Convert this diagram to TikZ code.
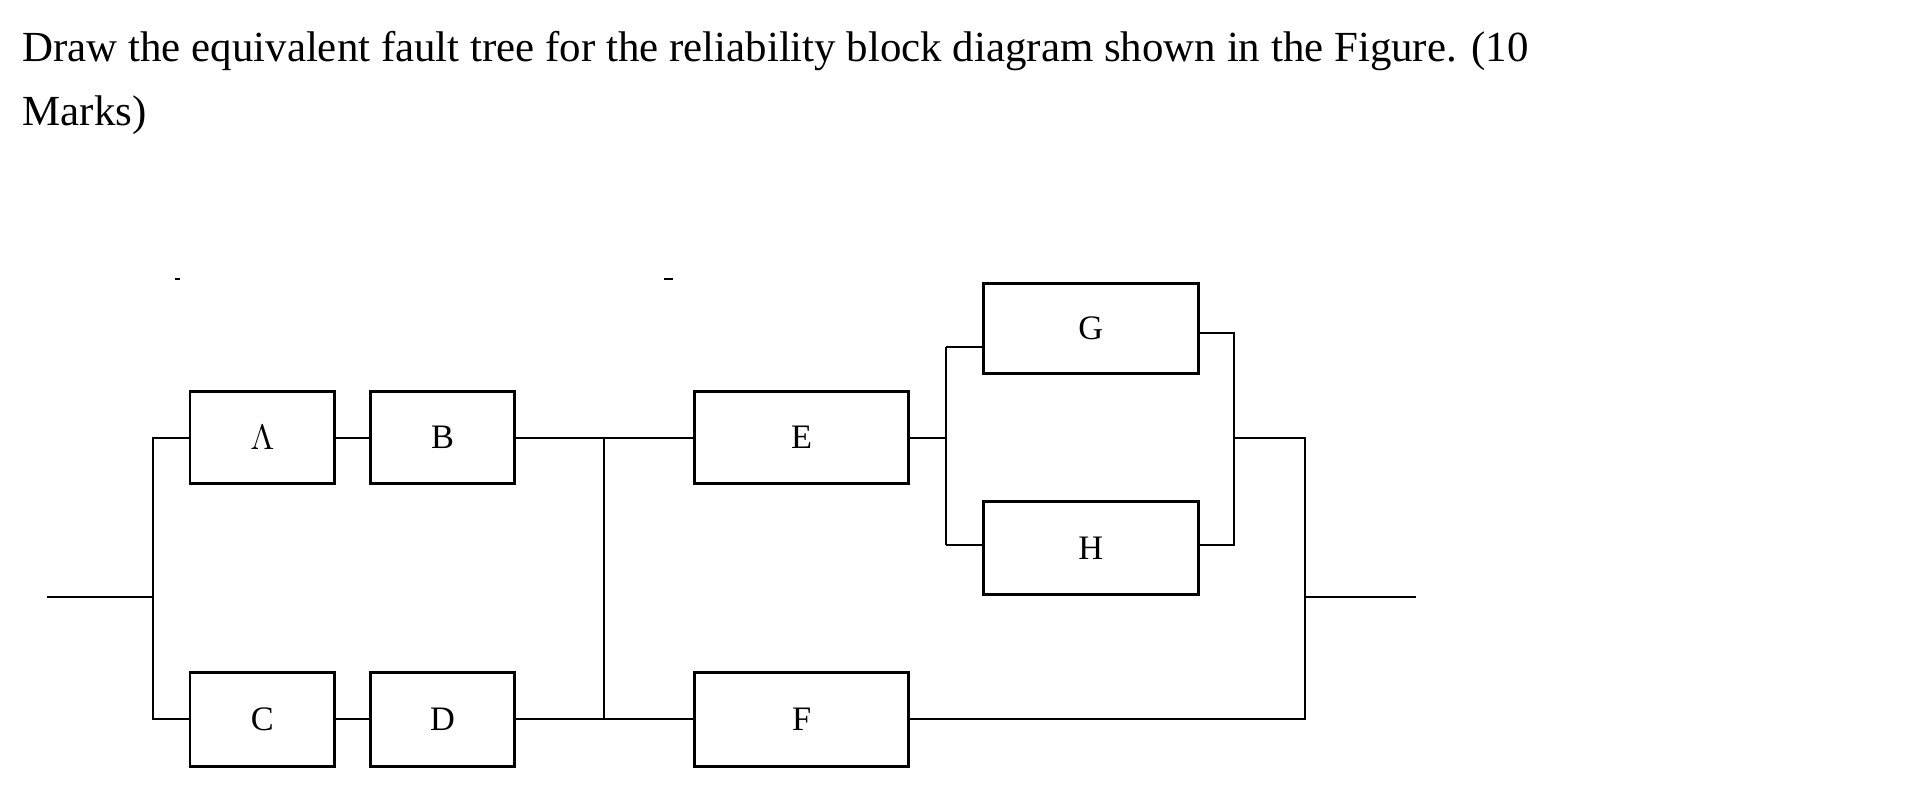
\documentclass[tikz,border=0pt]{standalone}
\usepackage{fontspec}
\setmainfont{Liberation Serif}
\begin{document}
\begin{tikzpicture}[x=0.5pt,y=-0.5pt,
  blk/.style={draw,line width=1.2pt,inner sep=0pt,font=\fontsize{14}{16}\selectfont},
  wire/.style={line width=0.8pt}]
\useasboundingbox (0,0) rectangle (1560,645);
\node[anchor=base west,inner sep=0pt,font=\fontsize{17.5}{21}\selectfont] (t1) at (18,50) {Draw the equivalent fault tree for the reliability block diagram shown in the Figure. (10};
\node[anchor=base west,inner sep=0pt,font=\fontsize{17.5}{21}\selectfont] (t2) at (18,102) {Marks)};
\def\bx#1#2#3#4#5{\node[blk,minimum width=#3*0.5pt,minimum height=#4*0.5pt] (#1) at (#2) {#5};}
\bx{A}{214,357}{118}{75}{$\Lambda$}
\bx{B}{361,357}{117}{75}{B}
\bx{E}{654,357}{175}{75}{E}
\bx{G}{890,268}{175}{73}{G}
\bx{H}{890,447}{175}{76}{H}
\bx{C}{214,587}{118}{76}{C}
\bx{D}{361,587}{117}{76}{D}
\bx{F}{654,587}{175}{76}{F}
\coordinate (in) at (38,487);
\coordinate (j1) at (125,487);
\coordinate (out) at (1155,487);
\coordinate (j2) at (1065,487);
\draw[wire] (in) -- (j1);
\draw[wire] (A.west) -| (j1) |- (C.west);
\draw[wire] (A) -- (B);
\draw[wire] (C) -- (D);
\draw[wire] (B) -- (E);
\draw[wire] (D) -- (F);
\coordinate (m1) at (493,357);
\coordinate (m2) at (493,587);
\draw[wire] (m1) -- (m2);
\coordinate (e1) at (772,357);
\draw[wire] (E) -- (e1);
\draw[wire] (G.west) ++(0,15) coordinate (gw) ;
\draw[wire] (772,283) -- (803,283);
\draw[wire] (772,445) -- (803,445);
\draw[wire] (772,283) -- (772,445);
\draw[wire] (978,272) -- (1007,272) -- (1007,445) -- (978,445);
\draw[wire] (1007,357) -- (1065,357) -- (1065,587) -- (F.east);
\draw[wire] (j2) -- (out);
\draw[line width=0.8pt] (143,228) -- (147,228);
\draw[line width=0.8pt] (542,228) -- (549,228);
\end{tikzpicture}
\end{document}
